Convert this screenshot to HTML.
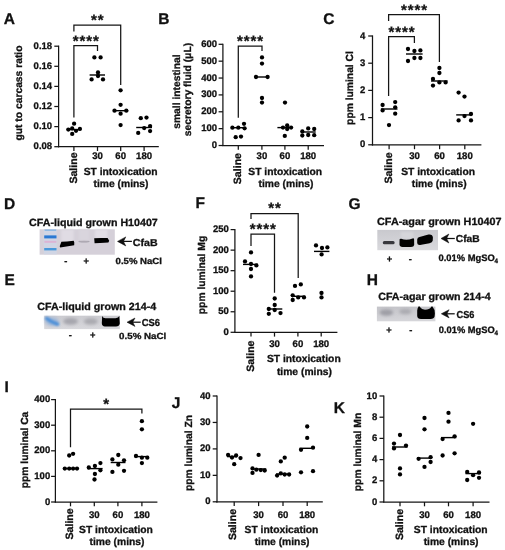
<!DOCTYPE html>
<html><head><meta charset="utf-8"><style>
html,body{margin:0;padding:0;background:#fff;}
svg{display:block;}
text{font-family:'Liberation Sans', Arial, sans-serif;fill:#111;stroke:#111;stroke-width:0.3px;text-rendering:geometricPrecision;}
</style></head><body>
<svg width="505" height="550" viewBox="0 0 505 550">
<rect width="505" height="550" fill="#fff"/>
<g id="plots">
<text x="3.80" y="23.60" font-size="15.5" text-anchor="start" font-weight="bold">A</text>
<line x1="58.60" y1="45.60" x2="58.60" y2="147.30" stroke="#151515" stroke-width="1.25"/>
<line x1="54.30" y1="46.20" x2="58.60" y2="46.20" stroke="#151515" stroke-width="1.25"/>
<text x="52.10" y="48.70" font-size="9.5" text-anchor="end" font-weight="bold">0.18</text>
<line x1="54.30" y1="66.30" x2="58.60" y2="66.30" stroke="#151515" stroke-width="1.25"/>
<text x="52.10" y="68.80" font-size="9.5" text-anchor="end" font-weight="bold">0.16</text>
<line x1="54.30" y1="86.40" x2="58.60" y2="86.40" stroke="#151515" stroke-width="1.25"/>
<text x="52.10" y="88.90" font-size="9.5" text-anchor="end" font-weight="bold">0.14</text>
<line x1="54.30" y1="106.50" x2="58.60" y2="106.50" stroke="#151515" stroke-width="1.25"/>
<text x="52.10" y="109.00" font-size="9.5" text-anchor="end" font-weight="bold">0.12</text>
<line x1="54.30" y1="126.60" x2="58.60" y2="126.60" stroke="#151515" stroke-width="1.25"/>
<text x="52.10" y="129.10" font-size="9.5" text-anchor="end" font-weight="bold">0.10</text>
<line x1="54.30" y1="146.70" x2="58.60" y2="146.70" stroke="#151515" stroke-width="1.25"/>
<text x="52.10" y="149.20" font-size="9.5" text-anchor="end" font-weight="bold">0.08</text>
<line x1="58.00" y1="146.70" x2="158.80" y2="146.70" stroke="#151515" stroke-width="1.25"/>
<line x1="73.90" y1="146.70" x2="73.90" y2="151.00" stroke="#151515" stroke-width="1.25"/>
<line x1="97.50" y1="146.70" x2="97.50" y2="151.00" stroke="#151515" stroke-width="1.25"/>
<line x1="120.70" y1="146.70" x2="120.70" y2="151.00" stroke="#151515" stroke-width="1.25"/>
<line x1="144.10" y1="146.70" x2="144.10" y2="151.00" stroke="#151515" stroke-width="1.25"/>
<text x="97.50" y="159.20" font-size="9.6" text-anchor="middle" font-weight="bold">30</text>
<text x="120.70" y="159.20" font-size="9.6" text-anchor="middle" font-weight="bold">60</text>
<text x="144.10" y="159.20" font-size="9.6" text-anchor="middle" font-weight="bold">180</text>
<text transform="translate(76.90,152.40) rotate(-90)" font-size="10.6" text-anchor="end" font-weight="bold">Saline</text>
<text x="120.60" y="174.50" font-size="10.3" text-anchor="middle" font-weight="bold">ST intoxication</text>
<text x="121.00" y="186.60" font-size="10.3" text-anchor="middle" font-weight="bold">time (mins)</text>
<text transform="translate(22.20,93.00) rotate(-90)" font-size="10.3" text-anchor="middle" font-weight="bold">gut to carcass ratio</text>
<circle cx="74.10" cy="123.70" r="2.15"/>
<circle cx="68.30" cy="129.60" r="2.15"/>
<circle cx="72.20" cy="128.40" r="2.15"/>
<circle cx="76.00" cy="130.80" r="2.15"/>
<circle cx="79.90" cy="128.90" r="2.15"/>
<circle cx="72.20" cy="133.90" r="2.15"/>
<circle cx="94.40" cy="57.40" r="2.15"/>
<circle cx="100.60" cy="57.40" r="2.15"/>
<circle cx="98.00" cy="72.40" r="2.15"/>
<circle cx="98.00" cy="76.00" r="2.15"/>
<circle cx="91.60" cy="79.40" r="2.15"/>
<circle cx="103.00" cy="79.40" r="2.15"/>
<circle cx="120.60" cy="90.30" r="2.15"/>
<circle cx="120.60" cy="104.80" r="2.15"/>
<circle cx="114.50" cy="110.70" r="2.15"/>
<circle cx="126.30" cy="110.70" r="2.15"/>
<circle cx="120.60" cy="113.70" r="2.15"/>
<circle cx="120.60" cy="125.10" r="2.15"/>
<circle cx="140.80" cy="118.20" r="2.15"/>
<circle cx="146.50" cy="117.60" r="2.15"/>
<circle cx="150.10" cy="126.10" r="2.15"/>
<circle cx="138.20" cy="132.90" r="2.15"/>
<circle cx="144.20" cy="128.10" r="2.15"/>
<circle cx="150.10" cy="131.10" r="2.15"/>
<line x1="67.00" y1="129.60" x2="81.00" y2="129.60" stroke="#000" stroke-width="1.4"/>
<line x1="89.60" y1="75.00" x2="105.00" y2="75.00" stroke="#000" stroke-width="1.4"/>
<line x1="113.00" y1="110.70" x2="128.30" y2="110.70" stroke="#000" stroke-width="1.4"/>
<line x1="136.20" y1="127.50" x2="152.00" y2="127.50" stroke="#000" stroke-width="1.4"/>
<path d="M73.90,31.40 L73.90,25.00 L120.70,25.00 L120.70,85.00" fill="none" stroke="#151515" stroke-width="1.25"/>
<text x="97.75" y="24.90" font-size="15" text-anchor="middle" font-weight="bold" letter-spacing="0.9">**</text>
<path d="M73.90,117.60 L73.90,45.60 L97.50,45.60 L97.50,51.00" fill="none" stroke="#151515" stroke-width="1.25"/>
<text x="86.15" y="45.50" font-size="15" text-anchor="middle" font-weight="bold" letter-spacing="0.9">****</text>
<text x="158.30" y="23.60" font-size="15.5" text-anchor="start" font-weight="bold">B</text>
<line x1="222.90" y1="43.70" x2="222.90" y2="146.10" stroke="#151515" stroke-width="1.25"/>
<line x1="218.60" y1="44.30" x2="222.90" y2="44.30" stroke="#151515" stroke-width="1.25"/>
<text x="217.00" y="46.80" font-size="9.5" text-anchor="end" font-weight="bold">600</text>
<line x1="218.60" y1="61.17" x2="222.90" y2="61.17" stroke="#151515" stroke-width="1.25"/>
<text x="217.00" y="63.67" font-size="9.5" text-anchor="end" font-weight="bold">500</text>
<line x1="218.60" y1="78.04" x2="222.90" y2="78.04" stroke="#151515" stroke-width="1.25"/>
<text x="217.00" y="80.54" font-size="9.5" text-anchor="end" font-weight="bold">400</text>
<line x1="218.60" y1="94.91" x2="222.90" y2="94.91" stroke="#151515" stroke-width="1.25"/>
<text x="217.00" y="97.41" font-size="9.5" text-anchor="end" font-weight="bold">300</text>
<line x1="218.60" y1="111.78" x2="222.90" y2="111.78" stroke="#151515" stroke-width="1.25"/>
<text x="217.00" y="114.28" font-size="9.5" text-anchor="end" font-weight="bold">200</text>
<line x1="218.60" y1="128.65" x2="222.90" y2="128.65" stroke="#151515" stroke-width="1.25"/>
<text x="217.00" y="131.15" font-size="9.5" text-anchor="end" font-weight="bold">100</text>
<line x1="218.60" y1="145.52" x2="222.90" y2="145.52" stroke="#151515" stroke-width="1.25"/>
<text x="217.00" y="148.02" font-size="9.5" text-anchor="end" font-weight="bold">0</text>
<line x1="222.30" y1="145.50" x2="324.00" y2="145.50" stroke="#151515" stroke-width="1.25"/>
<line x1="238.30" y1="145.50" x2="238.30" y2="149.80" stroke="#151515" stroke-width="1.25"/>
<line x1="261.90" y1="145.50" x2="261.90" y2="149.80" stroke="#151515" stroke-width="1.25"/>
<line x1="284.90" y1="145.50" x2="284.90" y2="149.80" stroke="#151515" stroke-width="1.25"/>
<line x1="308.20" y1="145.50" x2="308.20" y2="149.80" stroke="#151515" stroke-width="1.25"/>
<text x="261.90" y="159.20" font-size="9.6" text-anchor="middle" font-weight="bold">30</text>
<text x="284.90" y="159.20" font-size="9.6" text-anchor="middle" font-weight="bold">60</text>
<text x="308.20" y="159.20" font-size="9.6" text-anchor="middle" font-weight="bold">180</text>
<text transform="translate(241.30,153.00) rotate(-90)" font-size="10.6" text-anchor="end" font-weight="bold">Saline</text>
<text x="285.20" y="174.50" font-size="10.3" text-anchor="middle" font-weight="bold">ST intoxication</text>
<text x="286.00" y="186.60" font-size="10.3" text-anchor="middle" font-weight="bold">time (mins)</text>
<text transform="translate(180.00,91.60) rotate(-90)" font-size="10.3" text-anchor="middle" font-weight="bold">small intestinal</text>
<text transform="translate(191.20,89.50) rotate(-90)" font-size="10.3" text-anchor="middle" font-weight="bold">secretory fluid (μL)</text>
<circle cx="232.40" cy="127.70" r="2.15"/>
<circle cx="238.30" cy="127.70" r="2.15"/>
<circle cx="244.00" cy="123.80" r="2.15"/>
<circle cx="244.60" cy="128.30" r="2.15"/>
<circle cx="235.70" cy="137.20" r="2.15"/>
<circle cx="241.00" cy="136.60" r="2.15"/>
<circle cx="262.00" cy="57.40" r="2.15"/>
<circle cx="262.00" cy="63.60" r="2.15"/>
<circle cx="256.00" cy="77.00" r="2.15"/>
<circle cx="267.60" cy="77.00" r="2.15"/>
<circle cx="262.00" cy="98.00" r="2.15"/>
<circle cx="262.00" cy="102.60" r="2.15"/>
<circle cx="285.00" cy="102.60" r="2.15"/>
<circle cx="283.00" cy="127.60" r="2.15"/>
<circle cx="287.20" cy="125.40" r="2.15"/>
<circle cx="287.20" cy="129.00" r="2.15"/>
<circle cx="291.10" cy="127.60" r="2.15"/>
<circle cx="284.80" cy="135.90" r="2.15"/>
<circle cx="302.30" cy="131.40" r="2.15"/>
<circle cx="302.30" cy="135.50" r="2.15"/>
<circle cx="308.20" cy="128.40" r="2.15"/>
<circle cx="308.20" cy="135.00" r="2.15"/>
<circle cx="314.20" cy="129.00" r="2.15"/>
<circle cx="314.20" cy="135.20" r="2.15"/>
<line x1="230.80" y1="127.70" x2="245.60" y2="127.70" stroke="#000" stroke-width="1.4"/>
<line x1="256.00" y1="77.00" x2="267.60" y2="77.00" stroke="#000" stroke-width="1.4"/>
<line x1="277.40" y1="127.60" x2="292.00" y2="127.60" stroke="#000" stroke-width="1.4"/>
<line x1="302.00" y1="132.00" x2="315.70" y2="132.00" stroke="#000" stroke-width="1.4"/>
<path d="M238.30,117.80 L238.30,46.00 L262.00,46.00 L262.00,51.00" fill="none" stroke="#151515" stroke-width="1.25"/>
<text x="250.60" y="45.90" font-size="15" text-anchor="middle" font-weight="bold" letter-spacing="0.9">****</text>
<text x="323.20" y="23.60" font-size="15.5" text-anchor="start" font-weight="bold">C</text>
<line x1="372.50" y1="35.40" x2="372.50" y2="145.50" stroke="#151515" stroke-width="1.25"/>
<line x1="368.20" y1="36.00" x2="372.50" y2="36.00" stroke="#151515" stroke-width="1.25"/>
<text x="365.40" y="38.50" font-size="9.5" text-anchor="end" font-weight="bold">4</text>
<line x1="368.20" y1="63.20" x2="372.50" y2="63.20" stroke="#151515" stroke-width="1.25"/>
<text x="365.40" y="65.70" font-size="9.5" text-anchor="end" font-weight="bold">3</text>
<line x1="368.20" y1="90.40" x2="372.50" y2="90.40" stroke="#151515" stroke-width="1.25"/>
<text x="365.40" y="92.90" font-size="9.5" text-anchor="end" font-weight="bold">2</text>
<line x1="368.20" y1="117.60" x2="372.50" y2="117.60" stroke="#151515" stroke-width="1.25"/>
<text x="365.40" y="120.10" font-size="9.5" text-anchor="end" font-weight="bold">1</text>
<line x1="368.20" y1="144.80" x2="372.50" y2="144.80" stroke="#151515" stroke-width="1.25"/>
<text x="365.40" y="147.30" font-size="9.5" text-anchor="end" font-weight="bold">0</text>
<line x1="371.90" y1="144.90" x2="481.40" y2="144.90" stroke="#151515" stroke-width="1.25"/>
<line x1="389.10" y1="144.90" x2="389.10" y2="149.20" stroke="#151515" stroke-width="1.25"/>
<line x1="414.50" y1="144.90" x2="414.50" y2="149.20" stroke="#151515" stroke-width="1.25"/>
<line x1="439.60" y1="144.90" x2="439.60" y2="149.20" stroke="#151515" stroke-width="1.25"/>
<line x1="464.80" y1="144.90" x2="464.80" y2="149.20" stroke="#151515" stroke-width="1.25"/>
<text x="414.50" y="159.20" font-size="9.6" text-anchor="middle" font-weight="bold">30</text>
<text x="439.60" y="159.20" font-size="9.6" text-anchor="middle" font-weight="bold">60</text>
<text x="464.80" y="159.20" font-size="9.6" text-anchor="middle" font-weight="bold">180</text>
<text transform="translate(392.10,152.40) rotate(-90)" font-size="10.6" text-anchor="end" font-weight="bold">Saline</text>
<text x="438.10" y="174.50" font-size="10.3" text-anchor="middle" font-weight="bold">ST intoxication</text>
<text x="439.20" y="186.60" font-size="10.3" text-anchor="middle" font-weight="bold">time (mins)</text>
<text transform="translate(352.60,88.00) rotate(-90)" font-size="10.3" text-anchor="middle" font-weight="bold">ppm luminal Cl</text>
<circle cx="382.60" cy="105.00" r="2.15"/>
<circle cx="395.20" cy="102.10" r="2.15"/>
<circle cx="382.60" cy="110.40" r="2.15"/>
<circle cx="395.20" cy="107.30" r="2.15"/>
<circle cx="395.20" cy="113.70" r="2.15"/>
<circle cx="389.00" cy="125.10" r="2.15"/>
<circle cx="408.00" cy="49.00" r="2.15"/>
<circle cx="414.40" cy="51.00" r="2.15"/>
<circle cx="420.40" cy="50.40" r="2.15"/>
<circle cx="414.40" cy="58.00" r="2.15"/>
<circle cx="420.40" cy="58.00" r="2.15"/>
<circle cx="408.00" cy="61.00" r="2.15"/>
<circle cx="439.40" cy="68.00" r="2.15"/>
<circle cx="439.40" cy="73.00" r="2.15"/>
<circle cx="433.00" cy="79.00" r="2.15"/>
<circle cx="433.00" cy="85.60" r="2.15"/>
<circle cx="439.40" cy="82.40" r="2.15"/>
<circle cx="445.60" cy="82.40" r="2.15"/>
<circle cx="458.60" cy="92.60" r="2.15"/>
<circle cx="464.50" cy="96.60" r="2.15"/>
<circle cx="458.60" cy="120.40" r="2.15"/>
<circle cx="464.50" cy="116.10" r="2.15"/>
<circle cx="471.00" cy="114.00" r="2.15"/>
<circle cx="471.00" cy="120.40" r="2.15"/>
<line x1="380.90" y1="109.00" x2="397.50" y2="109.00" stroke="#000" stroke-width="1.4"/>
<line x1="406.00" y1="54.00" x2="422.60" y2="54.00" stroke="#000" stroke-width="1.4"/>
<line x1="431.00" y1="81.00" x2="447.60" y2="81.00" stroke="#000" stroke-width="1.4"/>
<line x1="456.20" y1="114.90" x2="471.60" y2="114.90" stroke="#000" stroke-width="1.4"/>
<path d="M388.60,21.00 L388.60,14.60 L439.40,14.60 L439.40,62.00" fill="none" stroke="#151515" stroke-width="1.25"/>
<text x="414.45" y="14.50" font-size="15" text-anchor="middle" font-weight="bold" letter-spacing="0.9">****</text>
<path d="M388.60,96.00 L388.60,36.60 L414.40,36.60 L414.40,43.00" fill="none" stroke="#151515" stroke-width="1.25"/>
<text x="401.95" y="36.50" font-size="15" text-anchor="middle" font-weight="bold" letter-spacing="0.9">****</text>
<text x="195.40" y="208.40" font-size="15.5" text-anchor="start" font-weight="bold">F</text>
<line x1="234.90" y1="229.00" x2="234.90" y2="332.90" stroke="#151515" stroke-width="1.25"/>
<line x1="230.60" y1="229.60" x2="234.90" y2="229.60" stroke="#151515" stroke-width="1.25"/>
<text x="228.90" y="232.10" font-size="9.5" text-anchor="end" font-weight="bold">250</text>
<line x1="230.60" y1="250.14" x2="234.90" y2="250.14" stroke="#151515" stroke-width="1.25"/>
<text x="228.90" y="252.64" font-size="9.5" text-anchor="end" font-weight="bold">200</text>
<line x1="230.60" y1="270.68" x2="234.90" y2="270.68" stroke="#151515" stroke-width="1.25"/>
<text x="228.90" y="273.18" font-size="9.5" text-anchor="end" font-weight="bold">150</text>
<line x1="230.60" y1="291.22" x2="234.90" y2="291.22" stroke="#151515" stroke-width="1.25"/>
<text x="228.90" y="293.72" font-size="9.5" text-anchor="end" font-weight="bold">100</text>
<line x1="230.60" y1="311.76" x2="234.90" y2="311.76" stroke="#151515" stroke-width="1.25"/>
<text x="228.90" y="314.26" font-size="9.5" text-anchor="end" font-weight="bold">50</text>
<line x1="230.60" y1="332.30" x2="234.90" y2="332.30" stroke="#151515" stroke-width="1.25"/>
<text x="228.90" y="334.80" font-size="9.5" text-anchor="end" font-weight="bold">0</text>
<line x1="234.30" y1="332.30" x2="337.40" y2="332.30" stroke="#151515" stroke-width="1.25"/>
<line x1="251.00" y1="332.30" x2="251.00" y2="336.60" stroke="#151515" stroke-width="1.25"/>
<line x1="274.50" y1="332.30" x2="274.50" y2="336.60" stroke="#151515" stroke-width="1.25"/>
<line x1="297.90" y1="332.30" x2="297.90" y2="336.60" stroke="#151515" stroke-width="1.25"/>
<line x1="321.20" y1="332.30" x2="321.20" y2="336.60" stroke="#151515" stroke-width="1.25"/>
<text x="274.50" y="346.90" font-size="9.6" text-anchor="middle" font-weight="bold">30</text>
<text x="297.90" y="346.90" font-size="9.6" text-anchor="middle" font-weight="bold">60</text>
<text x="321.20" y="346.90" font-size="9.6" text-anchor="middle" font-weight="bold">180</text>
<text transform="translate(254.00,340.50) rotate(-90)" font-size="10.6" text-anchor="end" font-weight="bold">Saline</text>
<text x="303.80" y="361.80" font-size="10.3" text-anchor="middle" font-weight="bold">ST intoxication</text>
<text x="304.40" y="374.90" font-size="10.3" text-anchor="middle" font-weight="bold">time (mins)</text>
<text transform="translate(204.60,275.00) rotate(-90)" font-size="10.3" text-anchor="middle" font-weight="bold">ppm luminal Mg</text>
<circle cx="251.00" cy="252.40" r="2.15"/>
<circle cx="245.00" cy="261.40" r="2.15"/>
<circle cx="251.00" cy="264.00" r="2.15"/>
<circle cx="256.40" cy="265.40" r="2.15"/>
<circle cx="251.00" cy="269.00" r="2.15"/>
<circle cx="251.00" cy="276.40" r="2.15"/>
<circle cx="274.70" cy="298.50" r="2.15"/>
<circle cx="274.70" cy="305.00" r="2.15"/>
<circle cx="268.80" cy="309.00" r="2.15"/>
<circle cx="274.70" cy="310.00" r="2.15"/>
<circle cx="268.80" cy="313.80" r="2.15"/>
<circle cx="280.50" cy="313.10" r="2.15"/>
<circle cx="295.00" cy="285.90" r="2.15"/>
<circle cx="300.80" cy="284.40" r="2.15"/>
<circle cx="292.70" cy="295.30" r="2.15"/>
<circle cx="292.70" cy="300.00" r="2.15"/>
<circle cx="298.20" cy="297.40" r="2.15"/>
<circle cx="304.00" cy="297.40" r="2.15"/>
<circle cx="316.00" cy="245.40" r="2.15"/>
<circle cx="322.00" cy="248.00" r="2.15"/>
<circle cx="327.40" cy="247.40" r="2.15"/>
<circle cx="321.60" cy="254.40" r="2.15"/>
<circle cx="321.50" cy="293.00" r="2.15"/>
<circle cx="321.50" cy="297.40" r="2.15"/>
<line x1="243.00" y1="264.40" x2="258.00" y2="264.40" stroke="#000" stroke-width="1.4"/>
<line x1="267.00" y1="309.00" x2="282.30" y2="309.00" stroke="#000" stroke-width="1.4"/>
<line x1="291.70" y1="296.30" x2="305.20" y2="296.30" stroke="#000" stroke-width="1.4"/>
<line x1="314.00" y1="251.40" x2="329.40" y2="251.40" stroke="#000" stroke-width="1.4"/>
<path d="M251.00,219.00 L251.00,213.50 L298.20,213.50 L298.20,278.00" fill="none" stroke="#151515" stroke-width="1.25"/>
<text x="275.05" y="213.40" font-size="15" text-anchor="middle" font-weight="bold" letter-spacing="0.9">**</text>
<path d="M251.00,246.00 L251.00,234.20 L274.50,234.20 L274.50,292.80" fill="none" stroke="#151515" stroke-width="1.25"/>
<text x="263.20" y="234.10" font-size="15" text-anchor="middle" font-weight="bold" letter-spacing="0.9">****</text>
<text x="4.60" y="392.40" font-size="15.5" text-anchor="start" font-weight="bold">I</text>
<line x1="55.40" y1="399.00" x2="55.40" y2="502.60" stroke="#151515" stroke-width="1.25"/>
<line x1="51.10" y1="399.60" x2="55.40" y2="399.60" stroke="#151515" stroke-width="1.25"/>
<text x="50.20" y="402.10" font-size="9.5" text-anchor="end" font-weight="bold">400</text>
<line x1="51.10" y1="425.20" x2="55.40" y2="425.20" stroke="#151515" stroke-width="1.25"/>
<text x="50.20" y="427.70" font-size="9.5" text-anchor="end" font-weight="bold">300</text>
<line x1="51.10" y1="450.80" x2="55.40" y2="450.80" stroke="#151515" stroke-width="1.25"/>
<text x="50.20" y="453.30" font-size="9.5" text-anchor="end" font-weight="bold">200</text>
<line x1="51.10" y1="476.40" x2="55.40" y2="476.40" stroke="#151515" stroke-width="1.25"/>
<text x="50.20" y="478.90" font-size="9.5" text-anchor="end" font-weight="bold">100</text>
<line x1="51.10" y1="502.00" x2="55.40" y2="502.00" stroke="#151515" stroke-width="1.25"/>
<text x="50.20" y="504.50" font-size="9.5" text-anchor="end" font-weight="bold">0</text>
<line x1="54.80" y1="502.00" x2="157.40" y2="502.00" stroke="#151515" stroke-width="1.25"/>
<line x1="70.50" y1="502.00" x2="70.50" y2="506.30" stroke="#151515" stroke-width="1.25"/>
<line x1="94.30" y1="502.00" x2="94.30" y2="506.30" stroke="#151515" stroke-width="1.25"/>
<line x1="117.90" y1="502.00" x2="117.90" y2="506.30" stroke="#151515" stroke-width="1.25"/>
<line x1="141.90" y1="502.00" x2="141.90" y2="506.30" stroke="#151515" stroke-width="1.25"/>
<text x="94.30" y="517.70" font-size="9.6" text-anchor="middle" font-weight="bold">30</text>
<text x="117.90" y="517.70" font-size="9.6" text-anchor="middle" font-weight="bold">60</text>
<text x="141.90" y="517.70" font-size="9.6" text-anchor="middle" font-weight="bold">180</text>
<text transform="translate(73.00,508.30) rotate(-90)" font-size="10.6" text-anchor="end" font-weight="bold">Saline</text>
<text x="116.00" y="532.80" font-size="10.3" text-anchor="middle" font-weight="bold">ST intoxication</text>
<text x="117.00" y="545.40" font-size="10.3" text-anchor="middle" font-weight="bold">time (mins)</text>
<text transform="translate(28.30,450.00) rotate(-90)" font-size="10.3" text-anchor="middle" font-weight="bold">ppm luminal Ca</text>
<circle cx="69.20" cy="455.50" r="2.15"/>
<circle cx="73.10" cy="453.80" r="2.15"/>
<circle cx="64.80" cy="468.60" r="2.15"/>
<circle cx="69.20" cy="468.60" r="2.15"/>
<circle cx="73.10" cy="468.60" r="2.15"/>
<circle cx="77.00" cy="468.60" r="2.15"/>
<circle cx="88.80" cy="467.50" r="2.15"/>
<circle cx="94.90" cy="466.00" r="2.15"/>
<circle cx="100.40" cy="463.10" r="2.15"/>
<circle cx="94.90" cy="474.00" r="2.15"/>
<circle cx="94.50" cy="479.50" r="2.15"/>
<circle cx="100.40" cy="470.30" r="2.15"/>
<circle cx="112.40" cy="459.40" r="2.15"/>
<circle cx="118.30" cy="455.00" r="2.15"/>
<circle cx="124.00" cy="460.30" r="2.15"/>
<circle cx="118.30" cy="464.70" r="2.15"/>
<circle cx="112.40" cy="471.90" r="2.15"/>
<circle cx="124.00" cy="470.80" r="2.15"/>
<circle cx="141.90" cy="421.20" r="2.15"/>
<circle cx="141.90" cy="429.30" r="2.15"/>
<circle cx="136.00" cy="456.00" r="2.15"/>
<circle cx="141.90" cy="463.10" r="2.15"/>
<circle cx="147.30" cy="457.70" r="2.15"/>
<circle cx="141.90" cy="457.70" r="2.15"/>
<line x1="63.30" y1="468.60" x2="78.60" y2="468.60" stroke="#000" stroke-width="1.4"/>
<line x1="87.30" y1="468.60" x2="102.60" y2="468.60" stroke="#000" stroke-width="1.4"/>
<line x1="110.70" y1="462.50" x2="125.50" y2="462.50" stroke="#000" stroke-width="1.4"/>
<line x1="134.20" y1="456.60" x2="149.00" y2="456.60" stroke="#000" stroke-width="1.4"/>
<path d="M70.50,447.20 L70.50,409.20 L141.90,409.20 L141.90,413.60" fill="none" stroke="#151515" stroke-width="1.25"/>
<text x="106.65" y="409.10" font-size="15" text-anchor="middle" font-weight="bold" letter-spacing="0.9">*</text>
<text x="171.80" y="408.00" font-size="15.5" text-anchor="start" font-weight="bold">J</text>
<line x1="217.00" y1="395.40" x2="217.00" y2="502.40" stroke="#151515" stroke-width="1.25"/>
<line x1="212.70" y1="396.00" x2="217.00" y2="396.00" stroke="#151515" stroke-width="1.25"/>
<text x="210.50" y="398.50" font-size="9.5" text-anchor="end" font-weight="bold">40</text>
<line x1="212.70" y1="422.45" x2="217.00" y2="422.45" stroke="#151515" stroke-width="1.25"/>
<text x="210.50" y="424.95" font-size="9.5" text-anchor="end" font-weight="bold">30</text>
<line x1="212.70" y1="448.90" x2="217.00" y2="448.90" stroke="#151515" stroke-width="1.25"/>
<text x="210.50" y="451.40" font-size="9.5" text-anchor="end" font-weight="bold">20</text>
<line x1="212.70" y1="475.35" x2="217.00" y2="475.35" stroke="#151515" stroke-width="1.25"/>
<text x="210.50" y="477.85" font-size="9.5" text-anchor="end" font-weight="bold">10</text>
<line x1="212.70" y1="501.80" x2="217.00" y2="501.80" stroke="#151515" stroke-width="1.25"/>
<text x="210.50" y="504.30" font-size="9.5" text-anchor="end" font-weight="bold">0</text>
<line x1="216.40" y1="501.80" x2="322.80" y2="501.80" stroke="#151515" stroke-width="1.25"/>
<line x1="234.20" y1="501.80" x2="234.20" y2="506.10" stroke="#151515" stroke-width="1.25"/>
<line x1="258.60" y1="501.80" x2="258.60" y2="506.10" stroke="#151515" stroke-width="1.25"/>
<line x1="283.00" y1="501.80" x2="283.00" y2="506.10" stroke="#151515" stroke-width="1.25"/>
<line x1="307.20" y1="501.80" x2="307.20" y2="506.10" stroke="#151515" stroke-width="1.25"/>
<text x="258.60" y="517.70" font-size="9.6" text-anchor="middle" font-weight="bold">30</text>
<text x="283.00" y="517.70" font-size="9.6" text-anchor="middle" font-weight="bold">60</text>
<text x="307.20" y="517.70" font-size="9.6" text-anchor="middle" font-weight="bold">180</text>
<text transform="translate(235.70,508.90) rotate(-90)" font-size="10.6" text-anchor="end" font-weight="bold">Saline</text>
<text x="281.50" y="532.80" font-size="10.3" text-anchor="middle" font-weight="bold">ST intoxication</text>
<text x="282.10" y="545.40" font-size="10.3" text-anchor="middle" font-weight="bold">time (mins)</text>
<text transform="translate(192.40,453.00) rotate(-90)" font-size="10.3" text-anchor="middle" font-weight="bold">ppm luminal Zn</text>
<circle cx="228.10" cy="454.90" r="2.15"/>
<circle cx="232.00" cy="457.50" r="2.15"/>
<circle cx="236.10" cy="455.50" r="2.15"/>
<circle cx="240.50" cy="458.10" r="2.15"/>
<circle cx="234.20" cy="464.20" r="2.15"/>
<circle cx="258.60" cy="454.90" r="2.15"/>
<circle cx="252.50" cy="468.40" r="2.15"/>
<circle cx="252.50" cy="472.90" r="2.15"/>
<circle cx="256.40" cy="469.70" r="2.15"/>
<circle cx="260.80" cy="470.10" r="2.15"/>
<circle cx="264.70" cy="470.50" r="2.15"/>
<circle cx="280.80" cy="461.40" r="2.15"/>
<circle cx="284.70" cy="457.70" r="2.15"/>
<circle cx="277.10" cy="475.60" r="2.15"/>
<circle cx="280.80" cy="473.40" r="2.15"/>
<circle cx="284.70" cy="474.50" r="2.15"/>
<circle cx="289.10" cy="474.50" r="2.15"/>
<circle cx="307.20" cy="426.50" r="2.15"/>
<circle cx="307.20" cy="437.90" r="2.15"/>
<circle cx="301.00" cy="449.80" r="2.15"/>
<circle cx="313.00" cy="447.70" r="2.15"/>
<circle cx="301.00" cy="472.30" r="2.15"/>
<circle cx="313.00" cy="471.20" r="2.15"/>
<line x1="227.00" y1="456.60" x2="236.80" y2="456.60" stroke="#000" stroke-width="1.4"/>
<line x1="251.00" y1="469.00" x2="266.20" y2="469.00" stroke="#000" stroke-width="1.4"/>
<line x1="276.00" y1="474.00" x2="290.20" y2="474.00" stroke="#000" stroke-width="1.4"/>
<line x1="299.50" y1="448.30" x2="314.10" y2="448.30" stroke="#000" stroke-width="1.4"/>
<text x="333.80" y="413.00" font-size="15.5" text-anchor="start" font-weight="bold">K</text>
<line x1="383.80" y1="395.40" x2="383.80" y2="502.60" stroke="#151515" stroke-width="1.25"/>
<line x1="379.50" y1="396.00" x2="383.80" y2="396.00" stroke="#151515" stroke-width="1.25"/>
<text x="377.20" y="398.50" font-size="9.5" text-anchor="end" font-weight="bold">10</text>
<line x1="379.50" y1="417.20" x2="383.80" y2="417.20" stroke="#151515" stroke-width="1.25"/>
<text x="377.20" y="419.70" font-size="9.5" text-anchor="end" font-weight="bold">8</text>
<line x1="379.50" y1="438.40" x2="383.80" y2="438.40" stroke="#151515" stroke-width="1.25"/>
<text x="377.20" y="440.90" font-size="9.5" text-anchor="end" font-weight="bold">6</text>
<line x1="379.50" y1="459.60" x2="383.80" y2="459.60" stroke="#151515" stroke-width="1.25"/>
<text x="377.20" y="462.10" font-size="9.5" text-anchor="end" font-weight="bold">4</text>
<line x1="379.50" y1="480.80" x2="383.80" y2="480.80" stroke="#151515" stroke-width="1.25"/>
<text x="377.20" y="483.30" font-size="9.5" text-anchor="end" font-weight="bold">2</text>
<line x1="379.50" y1="502.00" x2="383.80" y2="502.00" stroke="#151515" stroke-width="1.25"/>
<text x="377.20" y="504.50" font-size="9.5" text-anchor="end" font-weight="bold">0</text>
<line x1="383.20" y1="502.00" x2="489.50" y2="502.00" stroke="#151515" stroke-width="1.25"/>
<line x1="400.00" y1="502.00" x2="400.00" y2="506.30" stroke="#151515" stroke-width="1.25"/>
<line x1="424.50" y1="502.00" x2="424.50" y2="506.30" stroke="#151515" stroke-width="1.25"/>
<line x1="448.50" y1="502.00" x2="448.50" y2="506.30" stroke="#151515" stroke-width="1.25"/>
<line x1="473.10" y1="502.00" x2="473.10" y2="506.30" stroke="#151515" stroke-width="1.25"/>
<text x="424.50" y="517.70" font-size="9.6" text-anchor="middle" font-weight="bold">30</text>
<text x="448.50" y="517.70" font-size="9.6" text-anchor="middle" font-weight="bold">60</text>
<text x="473.10" y="517.70" font-size="9.6" text-anchor="middle" font-weight="bold">180</text>
<text transform="translate(403.00,508.90) rotate(-90)" font-size="10.6" text-anchor="end" font-weight="bold">Saline</text>
<text x="450.70" y="532.80" font-size="10.3" text-anchor="middle" font-weight="bold">ST intoxication</text>
<text x="451.10" y="545.40" font-size="10.3" text-anchor="middle" font-weight="bold">time (mins)</text>
<text transform="translate(360.60,452.00) rotate(-90)" font-size="10.3" text-anchor="middle" font-weight="bold">ppm luminal Mn</text>
<circle cx="400.00" cy="435.00" r="2.15"/>
<circle cx="394.00" cy="443.60" r="2.15"/>
<circle cx="394.00" cy="448.40" r="2.15"/>
<circle cx="406.00" cy="445.60" r="2.15"/>
<circle cx="400.00" cy="468.40" r="2.15"/>
<circle cx="400.00" cy="474.40" r="2.15"/>
<circle cx="424.50" cy="418.00" r="2.15"/>
<circle cx="424.50" cy="429.30" r="2.15"/>
<circle cx="418.60" cy="458.80" r="2.15"/>
<circle cx="430.60" cy="457.20" r="2.15"/>
<circle cx="430.60" cy="462.00" r="2.15"/>
<circle cx="424.50" cy="466.90" r="2.15"/>
<circle cx="448.50" cy="412.90" r="2.15"/>
<circle cx="448.50" cy="421.70" r="2.15"/>
<circle cx="442.60" cy="439.10" r="2.15"/>
<circle cx="454.60" cy="436.30" r="2.15"/>
<circle cx="442.60" cy="455.50" r="2.15"/>
<circle cx="454.60" cy="453.30" r="2.15"/>
<circle cx="473.10" cy="423.80" r="2.15"/>
<circle cx="467.20" cy="471.90" r="2.15"/>
<circle cx="473.10" cy="475.20" r="2.15"/>
<circle cx="479.00" cy="472.50" r="2.15"/>
<circle cx="467.20" cy="480.00" r="2.15"/>
<circle cx="479.00" cy="477.80" r="2.15"/>
<line x1="392.00" y1="447.00" x2="407.60" y2="447.00" stroke="#000" stroke-width="1.4"/>
<line x1="417.00" y1="458.10" x2="431.00" y2="458.10" stroke="#000" stroke-width="1.4"/>
<line x1="441.00" y1="437.60" x2="456.30" y2="437.60" stroke="#000" stroke-width="1.4"/>
<line x1="465.50" y1="473.60" x2="480.80" y2="473.60" stroke="#000" stroke-width="1.4"/>
</g>
<g id="blots">
<defs>
<filter id="b3" x="-20%" y="-50%" width="140%" height="200%"><feGaussianBlur stdDeviation="0.35"/></filter>
<filter id="b6" x="-20%" y="-50%" width="140%" height="200%"><feGaussianBlur stdDeviation="0.6"/></filter>
<filter id="b10" x="-30%" y="-80%" width="160%" height="260%"><feGaussianBlur stdDeviation="1.0"/></filter>
<filter id="b15" x="-40%" y="-100%" width="180%" height="300%"><feGaussianBlur stdDeviation="1.5"/></filter>
<linearGradient id="gG" x1="0" y1="0" x2="0" y2="1"><stop offset="0" stop-color="#c9c9ce"/><stop offset="1" stop-color="#d9d9dd"/></linearGradient>
<linearGradient id="gH" x1="0" y1="0" x2="0" y2="1"><stop offset="0" stop-color="#c4c4c9"/><stop offset="1" stop-color="#d6d6da"/></linearGradient>
<linearGradient id="gE" x1="0" y1="0" x2="0" y2="1"><stop offset="0" stop-color="#cbcbd0"/><stop offset="1" stop-color="#d8d8dc"/></linearGradient>
</defs>
<text x="4.00" y="208.50" font-size="15.5" text-anchor="start" font-weight="bold">D</text>
<text x="29.07" y="226.20" font-size="10.4" text-anchor="start" font-weight="bold" textLength="128.73" lengthAdjust="spacingAndGlyphs">CFA-liquid grown H10407</text>
<g>
<rect x="39.6" y="229.3" width="75.2" height="25.4" fill="#d5d0d9"/>
<rect x="43.8" y="229.3" width="13" height="25" fill="#d0d5e4" filter="url(#b6)"/>
<rect x="44.6" y="229.4" width="11.6" height="1.5" fill="#8cb8e4" filter="url(#b6)"/>
<rect x="44.2" y="235.4" width="12.3" height="3.0" fill="#2a78d2" filter="url(#b6)"/>
<rect x="44.4" y="240.8" width="12" height="2.0" fill="#dcb4d4" filter="url(#b6)"/>
<rect x="44.2" y="248.0" width="12.3" height="2.4" fill="#4a98da" filter="url(#b6)"/>
<rect x="61.2" y="229.5" width="12.4" height="12.5" fill="#e0dce4" filter="url(#b10)"/>
<path d="M61.4,241.8 L67,241.5 L73.7,240.8 L74.3,242.5 L74.2,245.2 L68,246.3 L60.2,247.4 L59.7,246.2 Z" fill="#050505" filter="url(#b3)"/><line x1="73.6" y1="236.5" x2="73.6" y2="241.5" stroke="#7a7680" stroke-width="0.7" filter="url(#b3)"/><line x1="61.3" y1="238" x2="61.3" y2="242" stroke="#8a8690" stroke-width="0.6" filter="url(#b3)"/>
<ellipse cx="84" cy="241.5" rx="5.6" ry="1.1" fill="#a29ea8" filter="url(#b6)"/>
<rect x="79" y="229.5" width="10" height="11" fill="#d9d5dd" filter="url(#b10)"/>
<rect x="95" y="229.5" width="12.4" height="9" fill="#e2dee6" filter="url(#b10)"/>
<line x1="94.5" y1="229.5" x2="94.5" y2="238.5" stroke="#6c6870" stroke-width="0.8" filter="url(#b3)"/>
<line x1="107.6" y1="229.5" x2="107.6" y2="238.2" stroke="#8c8890" stroke-width="0.6" filter="url(#b3)"/>
<path d="M94.2,238.3 L101,238.0 L107.6,237.9 L109.2,240.8 L108.4,242.6 L100,242.9 L94.6,243.2 Z" fill="#050505" filter="url(#b3)"/>
</g>
<path d="M117.50,241.40 L125.80,236.90 L123.48,241.40 L125.80,245.90 Z" fill="#111" stroke="#111" stroke-width="0.5" stroke-linejoin="round"/><line x1="120.50" y1="241.40" x2="131.90" y2="241.40" stroke="#111" stroke-width="1.25"/>
<text x="132.88" y="245.60" font-size="10" text-anchor="start" font-weight="bold" textLength="24.74" lengthAdjust="spacingAndGlyphs">CfaB</text>
<text x="65.70" y="263.80" font-size="9.3" text-anchor="middle" font-weight="bold">-</text>
<text x="86.10" y="263.80" font-size="9.3" text-anchor="middle" font-weight="bold">+</text>
<text x="115.62" y="263.80" font-size="8.8" text-anchor="start" font-weight="bold" textLength="46.36" lengthAdjust="spacingAndGlyphs">0.5% NaCl</text>
<text x="4.60" y="285.10" font-size="15.5" text-anchor="start" font-weight="bold">E</text>
<text x="37.37" y="309.60" font-size="10.4" text-anchor="start" font-weight="bold" textLength="118.80" lengthAdjust="spacingAndGlyphs">CFA-liquid grown 214-4</text>
<rect x="44.2" y="315.7" width="75.7" height="13.4" fill="url(#gE)"/>
<ellipse cx="52" cy="321.5" rx="7" ry="4.5" fill="#a9bcd8" filter="url(#b15)"/><path d="M46.6,318.3 Q50.5,321.6 57.6,324.2" stroke="#4d90d8" stroke-width="3.6" fill="none" stroke-linecap="round" filter="url(#b10)"/>
<ellipse cx="70.6" cy="321.4" rx="7.4" ry="3.4" fill="#a6a6ad" filter="url(#b15)"/>
<ellipse cx="90.8" cy="321.4" rx="7" ry="3.2" fill="#aaaab0" filter="url(#b15)"/>
<path d="M102.2,316.0 Q103,318.2 105.5,318.3 L115.5,318.3 Q118.6,318 119.3,316.0 L119.8,323.5 Q119.3,326.5 116,326.6 L105,326.6 Q101.8,326.2 101.8,323 Z" fill="#050505" filter="url(#b3)"/>
<path d="M127.00,322.20 L135.00,318.00 L132.76,322.20 L135.00,326.40 Z" fill="#111" stroke="#111" stroke-width="0.5" stroke-linejoin="round"/><line x1="130.00" y1="322.20" x2="140.70" y2="322.20" stroke="#111" stroke-width="1.25"/>
<text x="141.72" y="326.20" font-size="10" text-anchor="start" font-weight="bold" textLength="18.31" lengthAdjust="spacingAndGlyphs">CS6</text>
<text x="70.40" y="338.30" font-size="9.3" text-anchor="middle" font-weight="bold">-</text>
<text x="92.60" y="338.30" font-size="9.3" text-anchor="middle" font-weight="bold">+</text>
<text x="119.11" y="338.50" font-size="8.8" text-anchor="start" font-weight="bold" textLength="47.18" lengthAdjust="spacingAndGlyphs">0.5% NaCl</text>
<text x="348.50" y="208.90" font-size="15.5" text-anchor="start" font-weight="bold">G</text>
<text x="377.07" y="224.80" font-size="10.4" text-anchor="start" font-weight="bold" textLength="124.40" lengthAdjust="spacingAndGlyphs">CFA-agar grown H10407</text>
<rect x="377.3" y="229.9" width="60.7" height="20.3" fill="url(#gG)"/>
<rect x="382.8" y="241.1" width="11.8" height="3.1" rx="1.5" fill="#38383e" filter="url(#b6)"/>
<rect x="400.8" y="232" width="12.6" height="6.6" fill="#d6d6da" filter="url(#b10)"/><path d="M399.6,239.2 Q400,238.5 401.2,238.7 Q406.5,240.8 412.6,238.4 Q414,238.0 414.1,239.5 L414.2,245 Q413.9,246.9 411,247 L402.5,247 Q399.6,246.9 399.5,244.5 Z" fill="#050505" filter="url(#b3)"/>
<path d="M417.2,239.5 Q417.4,237.4 419.5,237.0 L428.5,234.5 Q432.6,233.9 432.9,237.5 L432.7,240.8 Q432.4,242.8 429.5,243.2 L420,245.0 Q417.3,245.2 417.2,243 Z" fill="#050505" filter="url(#b3)"/>
<path d="M441.00,238.50 L448.90,234.00 L446.69,238.50 L448.90,243.00 Z" fill="#111" stroke="#111" stroke-width="0.5" stroke-linejoin="round"/><line x1="444.00" y1="238.50" x2="454.80" y2="238.50" stroke="#111" stroke-width="1.25"/>
<text x="455.79" y="242.20" font-size="10" text-anchor="start" font-weight="bold" textLength="23.91" lengthAdjust="spacingAndGlyphs">CfaB</text>
<text x="389.40" y="262.00" font-size="9.3" text-anchor="middle" font-weight="bold">+</text>
<text x="410.20" y="262.00" font-size="9.3" text-anchor="middle" font-weight="bold">-</text>
<text x="438.53" y="260.80" font-size="9.4" text-anchor="start" font-weight="bold" textLength="56.17" lengthAdjust="spacingAndGlyphs">0.01% MgSO</text>
<text x="494.60" y="263.20" font-size="6.2" text-anchor="start" font-weight="bold">4</text>
<text x="366.80" y="285.10" font-size="15.5" text-anchor="start" font-weight="bold">H</text>
<text x="378.27" y="299.60" font-size="10.4" text-anchor="start" font-weight="bold" textLength="112.41" lengthAdjust="spacingAndGlyphs">CFA-agar grown 214-4</text>
<rect x="376.9" y="306.6" width="58.5" height="14.7" fill="url(#gH)"/>
<ellipse cx="386.4" cy="312.6" rx="6.8" ry="3.2" fill="#9e9ea5" filter="url(#b15)"/>
<ellipse cx="405.4" cy="311.6" rx="6.2" ry="2.6" fill="#aaaab0" filter="url(#b15)"/>
<path d="M418.6,306.4 Q419.6,306.2 420.2,307.2 Q421.5,309.6 425,309.8 Q429.6,309.6 431.0,307.2 Q431.6,306.2 432.4,306.4 Q434.9,309 434.9,313.5 L434.6,316.6 Q434,319 430.5,319.1 L421,319.1 Q417.4,318.8 417.2,316 L417.2,310.5 Q417.4,307.6 418.6,306.4 Z" fill="#050505" filter="url(#b3)"/>
<path d="M441.30,313.80 L449.10,309.70 L446.92,313.80 L449.10,317.90 Z" fill="#111" stroke="#111" stroke-width="0.5" stroke-linejoin="round"/><line x1="444.30" y1="313.80" x2="454.70" y2="313.80" stroke="#111" stroke-width="1.25"/>
<text x="456.53" y="317.80" font-size="10" text-anchor="start" font-weight="bold" textLength="17.89" lengthAdjust="spacingAndGlyphs">CS6</text>
<text x="388.90" y="333.00" font-size="9.3" text-anchor="middle" font-weight="bold">+</text>
<text x="410.80" y="333.20" font-size="9.3" text-anchor="middle" font-weight="bold">-</text>
<text x="438.83" y="332.60" font-size="9.4" text-anchor="start" font-weight="bold" textLength="55.86" lengthAdjust="spacingAndGlyphs">0.01% MgSO</text>
<text x="494.60" y="335.00" font-size="6.2" text-anchor="start" font-weight="bold">4</text>
</g>
</svg>
</body></html>
